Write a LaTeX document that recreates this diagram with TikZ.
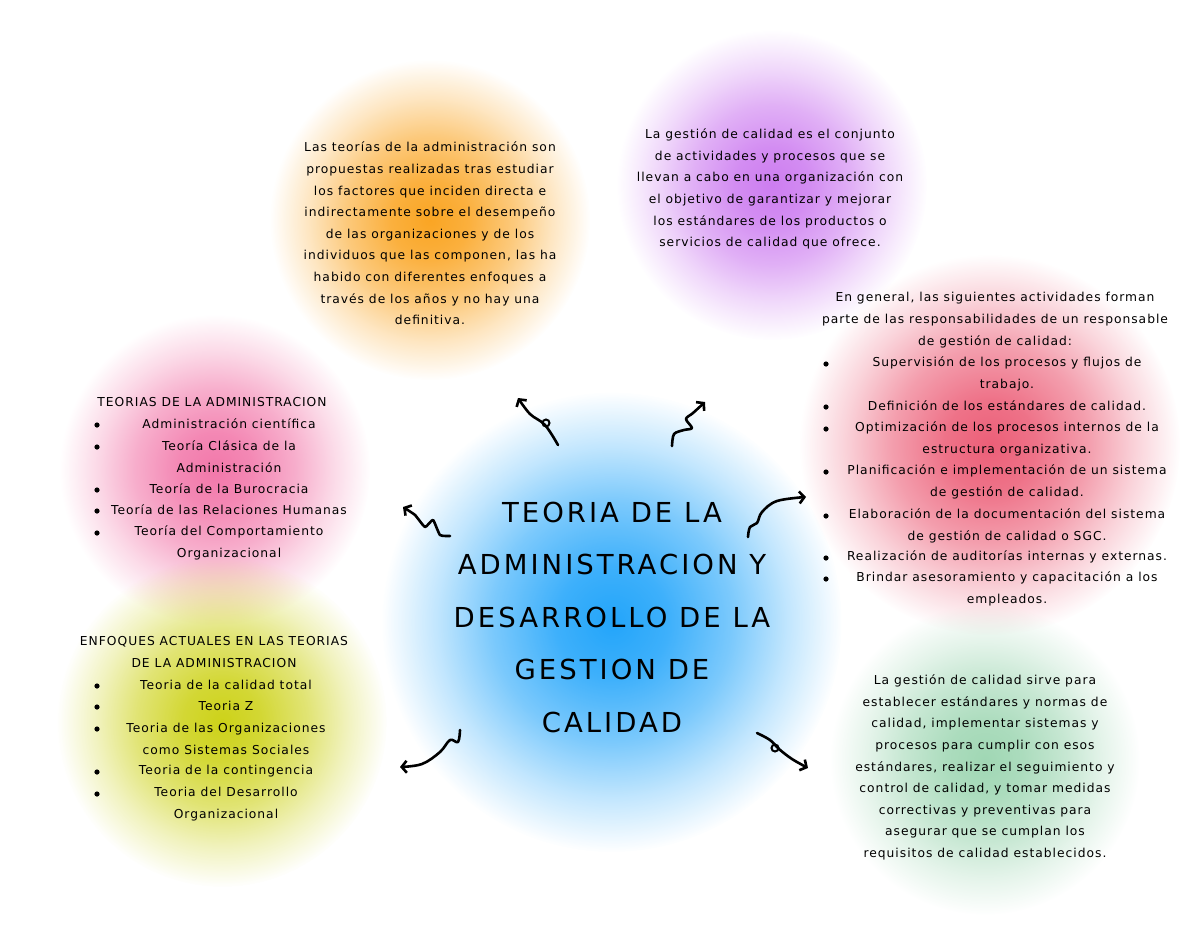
\documentclass[tikz,border=0pt]{standalone}
\usepackage{fontspec}
\setmainfont{DejaVu Sans}[LetterSpace=8]
\usepackage{tikz}
\usetikzlibrary{arrows.meta,fadings}

\pgfdeclareradialshading{blobshade}{\pgfpointorigin}{color(0bp)=(white); color(6bp)=(white!88!black); color(13bp)=(white!60!black); color(19bp)=(white!28!black); color(25bp)=(black); color(50bp)=(black)}
\pgfdeclarefading{blob}{\pgfuseshading{blobshade}}

\definecolor{orangeblob}{RGB}{250,165,35}
\definecolor{purpleblob}{RGB}{205,125,240}
\definecolor{redblob}{RGB}{236,95,120}
\definecolor{pinkblob}{RGB}{242,120,170}
\definecolor{yellowblob}{RGB}{205,210,25}
\definecolor{greenblob}{RGB}{160,215,180}
\definecolor{blueblob}{RGB}{35,165,250}

\tikzset{
	blobfill/.style={fill=#1, path fading=blob},
	txt/.style={font=\fontsize{12.3}{21.6}\selectfont, align=center, inner sep=0pt},
	maintitle/.style={font=\fontsize{27.5}{52.5}\selectfont\addfontfeatures{LetterSpace=11}, align=center, inner sep=0pt},
	squiggle/.style={line width=2.6pt, line cap=round, line join=round, -{Straight Barb[length=5pt,width=12pt]}},
}

\begin{document}
\begin{tikzpicture}[x=1pt,y=-1pt]
	\useasboundingbox (0,0) rectangle (1200,927);
	% blobs
	\fill[blobfill=orangeblob] (430,220) circle (160);
	\fill[blobfill=purpleblob] (772,185) circle (155);
	\fill[blobfill=redblob] (990,445) circle (190);
	\fill[blobfill=pinkblob] (215,470) circle (155);
	\fill[blobfill=yellowblob] (222,722) circle (165);
	\fill[blobfill=greenblob] (985,760) circle (155);
	\fill[blobfill=blueblob] (612,622) circle (230);
	%
	\node[txt] (adm) at (430,233.5) {Las teorías de la administración son\\propuestas realizadas tras estudiar\\los factores que inciden directa e\\indirectamente sobre el desempeño\\de las organizaciones y de los\\individuos que las componen, las ha\\habido con diferentes enfoques a\\través de los años y no hay una\\definitiva.};
	\node[txt] (gest) at (770,189) {La gestión de calidad es el conjunto\\de actividades y procesos que se\\llevan a cabo en una organización con\\el objetivo de garantizar y mejorar\\los estándares de los productos o\\servicios de calidad que ofrece.};
	\node[txt] (sirve) at (985,767.5) {La gestión de calidad sirve para\\establecer estándares y normas de\\calidad, implementar sistemas y\\procesos para cumplir con esos\\estándares, realizar el seguimiento y\\control de calidad, y tomar medidas\\correctivas y preventivas para\\asegurar que se cumplan los\\requisitos de calidad establecidos.};
	\node[maintitle] (main) at (612,617) {TEORIA DE LA\\ADMINISTRACION Y\\DESARROLLO DE LA\\GESTION DE\\CALIDAD};
	%
	\node[txt] (resp) at (995,320) {En general, las siguientes actividades forman\\parte de las responsabilidades de un responsable\\de gestión de calidad:};
	\foreach \b/\c/\t [count=\i] in {363/374/{Supervisión de los procesos y flujos de\\trabajo.},
		406/406/{Definición de los estándares de calidad.},
		428/439/{Optimización de los procesos internos de la\\estructura organizativa.},
		471/482/{Planificación e implementación de un sistema\\de gestión de calidad.},
		515/526/{Elaboración de la documentación del sistema\\de gestión de calidad o SGC.},
		557/557/{Realización de auditorías internas y externas.},
		578/589/{Brindar asesoramiento y capacitación a los\\empleados.}}
	{
		\fill (826,\b+1) circle (2.6);
		\node[txt] (resp\i) at (1007,\c) {\t};
	}
	%
	\node[txt] (teorias) at (212,402) {TEORIAS DE LA ADMINISTRACION};
	\foreach \b/\c/\t [count=\i] in {424/424/{Administración científica},
		446/456.5/{Teoría Clásica de la\\Administración},
		489/489/{Teoría de la Burocracia},
		510/510/{Teoría de las Relaciones Humanas},
		532/543/{Teoría del Comportamiento\\Organizacional}}
	{
		\fill (97,\b+1) circle (2.6);
		\node[txt] (teorias\i) at (229,\c) {\t};
	}
	%
	\node[txt] (enfoques) at (214,652) {ENFOQUES ACTUALES EN LAS TEORIAS\\DE LA ADMINISTRACION};
	\foreach \b/\c/\t [count=\i] in {685/685/{Teoria de la calidad total},
		706/706/{Teoria Z},
		728/739/{Teoria de las Organizaciones\\como Sistemas Sociales},
		771/771/{Teoria de la contingencia},
		793/804/{Teoria del Desarrollo\\Organizacional}}
	{
		\fill (97,\b+1) circle (2.6);
		\node[txt] (enfoques\i) at (226,\c) {\t};
	}
	%
	\coordinate (q1s) at (558,445);
	\coordinate (q1e) at (518,398);
	\coordinate (q2s) at (672,446);
	\coordinate (q2e) at (705,402);
	\coordinate (q3s) at (450,536);
	\coordinate (q3e) at (403,507);
	\coordinate (q4s) at (748,537);
	\coordinate (q4e) at (806,497);
	\coordinate (q5s) at (460,730);
	\coordinate (q5e) at (400,767);
	\coordinate (q6s) at (757,733);
	\coordinate (q6e) at (808,768);
	\draw[squiggle] plot[smooth,tension=0.6] coordinates {(q1s) (545,425) (530,414) (q1e)};
	\draw[line width=2pt] (546,423) circle (3.5);
	\draw[squiggle] plot[smooth,tension=0.5] coordinates {(q2s) (674,434) (684,430) (692,428) (686,419) (693,413) (q2e)};
	\draw[squiggle] plot[smooth,tension=0.3] coordinates {(q3s) (440,535) (433,520) (425,527) (415,515) (q3e)};
	\draw[squiggle] plot[smooth,tension=0.6] coordinates {(q4s) (750,527) (757,523) (762,512) (777,501) (q4e)};
	\draw[squiggle] plot[smooth,tension=0.6] coordinates {(q5s) (458,742) (450,740) (440,752) (422,764) (q5e)};
	\draw[squiggle] plot[smooth,tension=0.6] coordinates {(q6s) (770,740) (779,749) (792,759) (q6e)};
	\draw[line width=2pt] (775,748) circle (3.5);
\end{tikzpicture}
\end{document}
